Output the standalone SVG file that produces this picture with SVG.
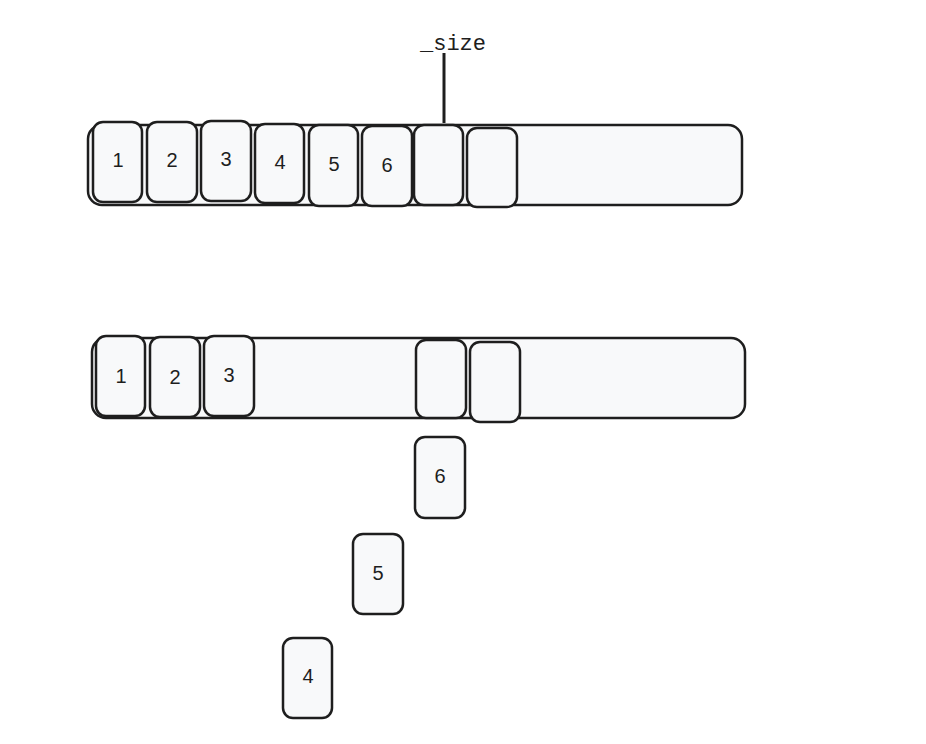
<svg xmlns="http://www.w3.org/2000/svg" width="926" height="744" viewBox="0 0 926 744">
<style>
.bar{fill:#f8f9fa;stroke:#1e1e1e;stroke-width:2.5}
.cell{fill:#f8f9fa;stroke:#1e1e1e;stroke-width:2.5}
.t{font-family:"Liberation Sans","DejaVu Sans",sans-serif;font-size:20px;fill:#1e1e1e;text-anchor:middle;dominant-baseline:central}
.m{font-family:"Liberation Mono","DejaVu Sans Mono",monospace;font-size:22px;fill:#1e1e1e}
</style>
<rect width="926" height="744" fill="#ffffff"/>
<g id="top-array">
<rect class="bar" x="88" y="125" width="654" height="80" rx="14"/>
</g>
<g id="top-cell-1"><rect class="cell" x="93" y="122" width="49" height="80" rx="10"/><text class="t" x="118" y="160">1</text></g>
<g id="top-cell-2"><rect class="cell" x="147" y="122" width="50" height="80" rx="10"/><text class="t" x="172" y="160">2</text></g>
<g id="top-cell-3"><rect class="cell" x="201" y="121" width="50" height="80" rx="10"/><text class="t" x="226" y="159">3</text></g>
<g id="top-cell-4"><rect class="cell" x="255" y="124" width="49" height="79" rx="10"/><text class="t" x="280" y="162">4</text></g>
<g id="top-cell-5"><rect class="cell" x="309" y="125" width="49" height="81" rx="10"/><text class="t" x="334" y="164">5</text></g>
<g id="top-cell-6"><rect class="cell" x="362" y="126" width="50" height="80" rx="10"/><text class="t" x="387" y="165">6</text></g>
<g id="top-cell-7"><rect class="cell" x="414" y="125" width="49" height="80" rx="10"/></g>
<g id="top-cell-8"><rect class="cell" x="467" y="128" width="50" height="79" rx="10"/></g>
<g id="size-label"><text class="m" x="420" y="50">_size</text></g>
<g id="connectors">
<line x1="444" y1="53" x2="444" y2="123" stroke="#1e1e1e" stroke-width="3"/>
</g>
<g id="bottom-array">
<rect class="bar" x="92" y="338" width="653" height="80" rx="14"/>
</g>
<g id="bottom-cell-1"><rect class="cell" x="96" y="336" width="49" height="80" rx="10"/><text class="t" x="121" y="376">1</text></g>
<g id="bottom-cell-2"><rect class="cell" x="150" y="337" width="50" height="80" rx="10"/><text class="t" x="175" y="377">2</text></g>
<g id="bottom-cell-3"><rect class="cell" x="204" y="336" width="50" height="80" rx="10"/><text class="t" x="229" y="375">3</text></g>
<g id="bottom-cell-7"><rect class="cell" x="416" y="340" width="50" height="78" rx="10"/></g>
<g id="bottom-cell-8"><rect class="cell" x="470" y="342" width="50" height="80" rx="10"/></g>
<g id="loose-6"><rect class="cell" x="415" y="437" width="50" height="81" rx="10"/><text class="t" x="440" y="476">6</text></g>
<g id="loose-5"><rect class="cell" x="353" y="534" width="50" height="80" rx="10"/><text class="t" x="378" y="573">5</text></g>
<g id="loose-4"><rect class="cell" x="283" y="638" width="49" height="80" rx="10"/><text class="t" x="308" y="676">4</text></g>
</svg>
